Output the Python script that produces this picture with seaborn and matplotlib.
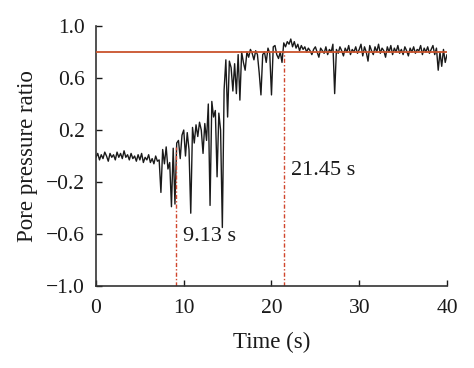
import numpy as np
import pandas as pd
import matplotlib
matplotlib.use("Agg")
import matplotlib.pyplot as plt
import seaborn as sns

# pore pressure ratio, sampled every 0.2 s from 0 to 40 s
ratio = [
    -0.01, 0.02, -0.03, 0.01, -0.02, 0.03, 0.00, -0.04, 0.02, -0.01,
    0.01, -0.03, 0.03, -0.01, 0.02, -0.02, 0.04, -0.01, 0.01, -0.03,
    0.02, -0.02, 0.00, -0.04, 0.01, -0.03, 0.02, -0.05, -0.01, -0.03,
    0.01, -0.05, -0.02, -0.06, 0.00, -0.04, -0.03, -0.28, 0.05, -0.06,
    0.07, -0.10, -0.05, -0.39, 0.06, -0.37, 0.10, 0.12, -0.02, 0.16,
    0.20, 0.00, 0.18, 0.05, -0.44, 0.22, 0.10, 0.24, 0.15, 0.26,
    0.20, 0.02, 0.25, 0.12, 0.40, -0.38, 0.42, 0.30, 0.35, -0.16,
    0.33, 0.20, -0.55, 0.51, 0.74, 0.30, 0.73, 0.68, 0.50, 0.71,
    0.48, 0.78, 0.43, 0.80, 0.72, 0.66, 0.80, 0.76, 0.82, 0.79,
    0.74, 0.81, 0.78, 0.64, 0.47, 0.78, 0.80, 0.72, 0.83, 0.79,
    0.47, 0.84, 0.85, 0.78, 0.75, 0.80, 0.72, 0.87, 0.84, 0.88,
    0.86, 0.90, 0.84, 0.88, 0.83, 0.86, 0.81, 0.85, 0.82, 0.84,
    0.80, 0.83, 0.81, 0.78, 0.82, 0.84, 0.80, 0.76, 0.83, 0.81,
    0.79, 0.84, 0.78, 0.82, 0.80, 0.86, 0.48, 0.82, 0.79, 0.84,
    0.81, 0.77, 0.83, 0.80, 0.85, 0.78, 0.82, 0.80, 0.84, 0.79,
    0.82, 0.86, 0.77, 0.84, 0.80, 0.73, 0.85, 0.81, 0.78, 0.84,
    0.80, 0.86, 0.79, 0.83, 0.81, 0.76, 0.84, 0.80, 0.85, 0.78,
    0.83, 0.80, 0.85, 0.79, 0.82, 0.78, 0.84, 0.81, 0.77, 0.83,
    0.80, 0.84, 0.79, 0.82, 0.81, 0.85, 0.78, 0.83, 0.80, 0.84,
    0.79, 0.82, 0.85, 0.78, 0.83, 0.66, 0.80, 0.69, 0.82, 0.72,
    0.78,
]
time = np.linspace(0, 40, len(ratio))

threshold = 0.8
marker_times = [9.13, 21.45]
marker_tops = [0.07, 0.8]
marker_labels = ["9.13 s", "21.45 s"]
label_pos = [(9.9, -0.62), (22.2, -0.11)]

x_ticks = [0, 10, 20, 30, 40]
y_ticks = [-1.0, -0.6, -0.2, 0.2, 0.6, 1.0]

df = pd.DataFrame({"Time (s)": time, "Pore pressure ratio": ratio})

sns.set_style("ticks")
plt.rcParams["font.family"] = ["Liberation Serif", "DejaVu Serif"]

fig = plt.figure(figsize=(4.74, 3.68), dpi=100)
ax = fig.add_axes([0.2025, 0.2228, 0.7405, 0.7065])

sns.lineplot(data=df, x="Time (s)", y="Pore pressure ratio", ax=ax,
             color="#1a1a1a", linewidth=1.0)
ax.axhline(threshold, color="#c9532c", linewidth=1.3, zorder=3)
for t, top in zip(marker_times, marker_tops):
    ax.plot([t, t], [-1.0, top], color="#d0452c", linewidth=1.0,
            linestyle=(0, (3, 1.5, 1, 1.5)))
for lab, (x, y) in zip(marker_labels, label_pos):
    ax.text(x, y, lab, fontsize=16, color="#1a1a1a", va="center")

ax.set_xlim(0, 40)
ax.set_ylim(-1.0, 1.0)
ax.set_xticks(x_ticks)
ax.set_yticks(y_ticks)
ax.set_yticklabels([f"{v:.1f}".replace("-", "\u2212") for v in y_ticks])
ax.tick_params(direction="in", length=4, width=1, labelsize=15.5,
               colors="#1a1a1a")
ax.tick_params(axis="x", pad=9)
ax.tick_params(axis="y", pad=8)
ax.set_xlabel("Time (s)", fontsize=16.5, color="#1a1a1a", labelpad=10)
ax.set_ylabel("Pore pressure ratio", fontsize=16.5, color="#1a1a1a", labelpad=6)
sns.despine(ax=ax)
for s in ["left", "bottom"]:
    ax.spines[s].set_color("#333333")
    ax.spines[s].set_linewidth(1.2)

fig.savefig("out.png", dpi=100)
